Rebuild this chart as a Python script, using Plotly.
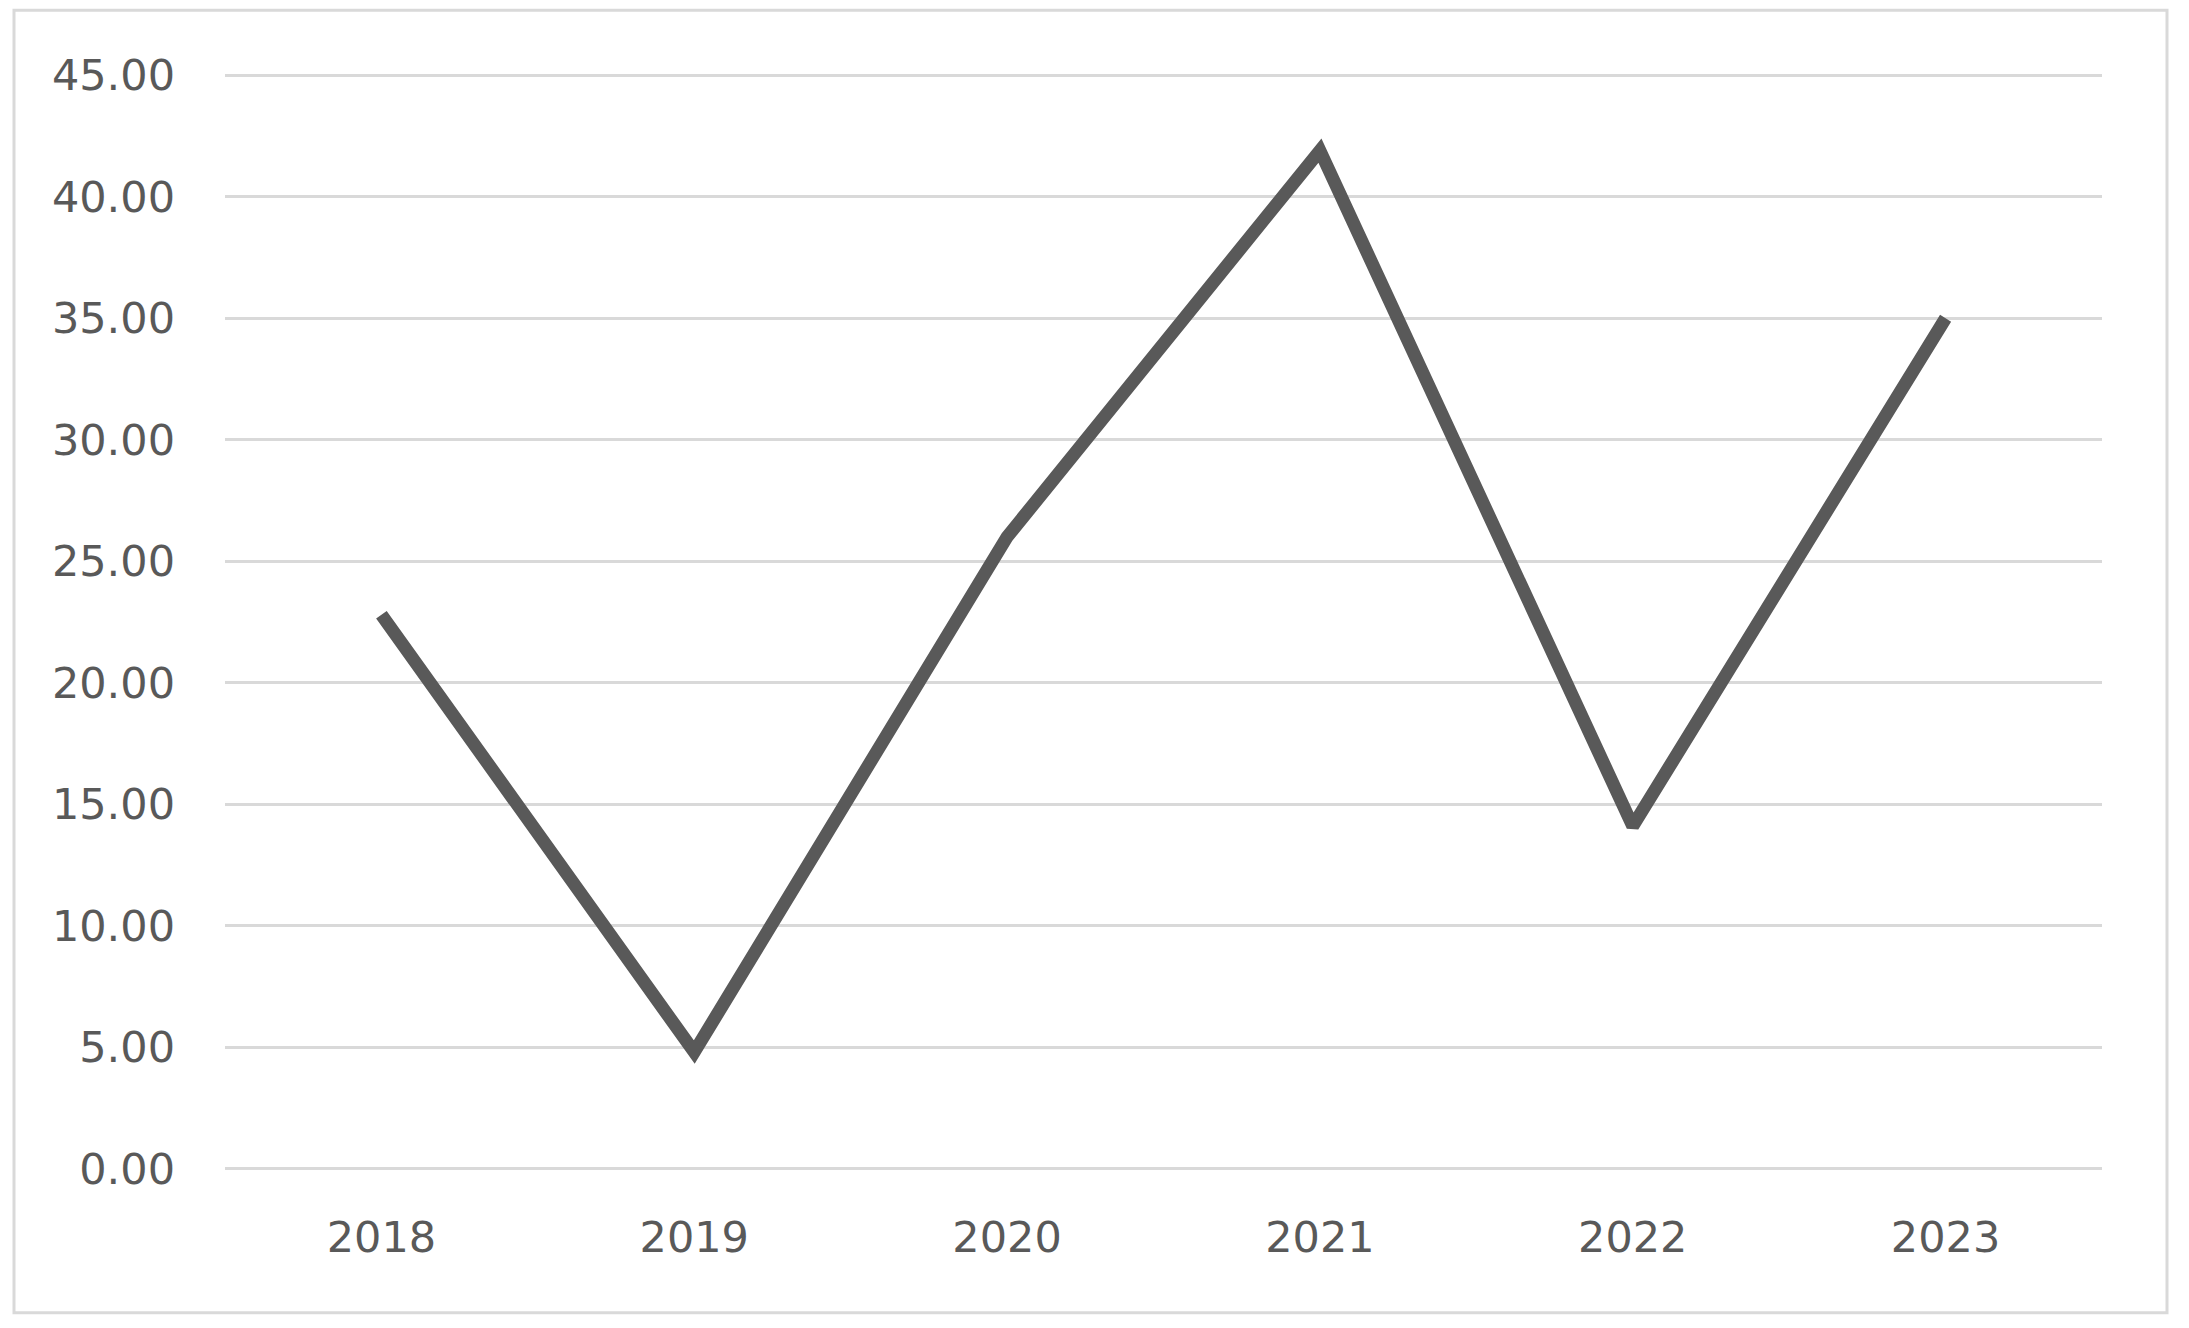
import plotly.graph_objects as go

years = ["2018", "2019", "2020", "2021", "2022", "2023"]
values = [22.8, 4.8, 26.0, 41.9, 14.1, 35.0]
y_ticks = [0, 5, 10, 15, 20, 25, 30, 35, 40, 45]

# page has an 8px body margin, so the figure is drawn 8px in
OFF = 8
W, H = 2189 - 2 * OFF, 1328 - 2 * OFF
pad = 0.3  # small range padding so the 0 and 45 gridlines are drawn
unit = 1094 / 45
left = 225 - OFF
right = W - (2102 - OFF)
top = 75 - OFF - pad * unit
bottom = H - (1169 - OFF) - pad * unit
plot_w = W - left - right
plot_h = H - top - bottom


def px_x(px):
    return (px - OFF - left) / plot_w


def px_y(py):
    return (H - bottom - (py - OFF)) / plot_h


fig = go.Figure()
fig.add_trace(go.Scatter(
    x=years,
    y=values,
    mode="lines",
    line=dict(color="#595959", width=13),
    showlegend=False,
    hoverinfo="skip",
))

# outer chart border
fig.add_shape(
    type="rect", xref="paper", yref="paper",
    x0=px_x(14), x1=px_x(2167), y0=px_y(1313), y1=px_y(10),
    line=dict(color="#d9d9d9", width=3), layer="below",
)

fig.update_layout(
    width=W, height=H,
    margin=dict(l=left, r=right, t=top, b=bottom, autoexpand=False),
    paper_bgcolor="white",
    plot_bgcolor="white",
    font=dict(family="DejaVu Sans", size=43, color="#595959"),
    xaxis=dict(
        type="category",
        range=[-0.5, 5.5],
        showgrid=False,
        showline=False,
        zeroline=False,
        ticks="",
        ticklabelstandoff=round(39 - pad * unit),
        tickfont=dict(size=43, color="#595959"),
    ),
    yaxis=dict(
        range=[-pad, 45 + pad],
        tickvals=y_ticks,
        ticktext=[f"{v:.2f}" for v in y_ticks],
        showgrid=True,
        gridcolor="#d9d9d9",
        gridwidth=3,
        zeroline=False,
        showline=False,
        ticks="",
        ticklabelstandoff=49,
        tickfont=dict(size=43, color="#595959"),
    ),
)

fig.write_html("out.html")
